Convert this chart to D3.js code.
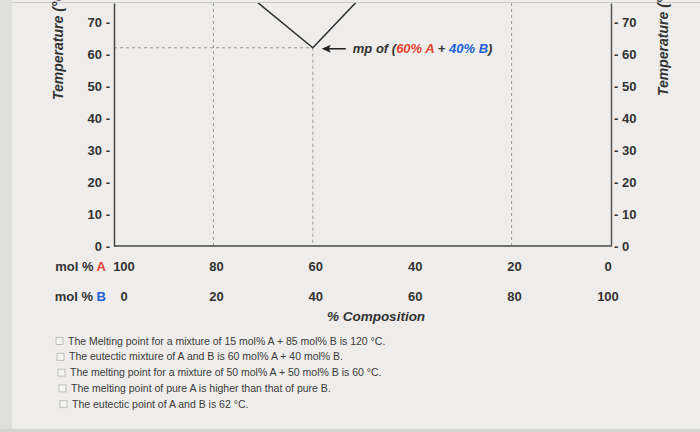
<!DOCTYPE html>
<html>
<head>
<meta charset="utf-8">
<script src="https://cdn.jsdelivr.net/npm/d3@7"></script>
<style>
  html, body { margin: 0; padding: 0; background: #eeedeb; overflow: hidden; }
  svg { display: block; font-family: "Liberation Sans", Arial, sans-serif; }
  .tick text { font-weight: bold; font-size: 13px; fill: #333; }
  .statement { font-size: 10.5px; fill: #3a3a3a; }
</style>
</head>
<body>
<svg id="chart" width="700" height="432"></svg>
<script>
// composition tick labels (mol % A along the axis, mol % B underneath)
const molA = [100, 80, 60, 40, 20, 0];
const molB = [0, 20, 40, 60, 80, 100];
const tempTicks = [0, 10, 20, 30, 40, 50, 60, 70];

// liquidus curve: mol % A and melting temperature
const curveA = [100, 60, 0];
const curveT = [113, 62, 160];

// eutectic point
const eutecticA = 60;
const eutecticT = 62;

// vertical guide lines (mol % A)
const guideA = [80, 20];

const statements = [
    "The Melting point for a mixture of 15 mol% A + 85 mol% B is 120 \u00B0C.",
    "The eutectic mixture of A and B is 60 mol% A + 40 mol% B.",
    "The melting point for a mixture of 50 mol% A + 50 mol% B is 60 \u00B0C.",
    "The melting point of pure A is higher than that of pure B.",
    "The eutectic point of A and B is 62 \u00B0C."
];

const svg = d3.select('#chart');

// page frame bits from the screenshot
svg.append('rect').attr('x', 0).attr('y', 0).attr('width', 12).attr('height', 432).attr('fill', '#dededc');
svg.append('rect').attr('x', 0).attr('y', 429).attr('width', 700).attr('height', 3).attr('fill', '#d4d4d2');
svg.append('line').attr('x1', 12).attr('x2', 700).attr('y1', 2.5).attr('y2', 2.5)
    .attr('stroke', '#c9c9c7').attr('stroke-width', 1);

const x = d3.scaleLinear().domain([100, 0]).range([114, 611]);
const y = d3.scaleLinear().domain([0, 76]).range([246, 3]);

svg.append('defs').append('clipPath').attr('id', 'plot-clip')
    .append('rect')
    .attr('x', x(100)).attr('y', y(76))
    .attr('width', x(0) - x(100)).attr('height', y(0) - y(76));

const dashed = { stroke: '#9a9a9a', dash: '3,3' };

// vertical dashed guides
svg.selectAll('.guide')
    .data(guideA)
    .enter()
    .append('line')
    .attr('class', 'guide')
    .attr('x1', d => x(d)).attr('x2', d => x(d))
    .attr('y1', y(76)).attr('y2', y(0))
    .attr('stroke', dashed.stroke)
    .attr('stroke-dasharray', dashed.dash);

// dashed drop lines from the eutectic point
svg.append('line')
    .attr('x1', x(100)).attr('x2', x(eutecticA))
    .attr('y1', y(eutecticT)).attr('y2', y(eutecticT))
    .attr('stroke', dashed.stroke)
    .attr('stroke-dasharray', dashed.dash);

svg.append('line')
    .attr('x1', x(eutecticA)).attr('x2', x(eutecticA))
    .attr('y1', y(eutecticT)).attr('y2', y(0))
    .attr('stroke', dashed.stroke)
    .attr('stroke-dasharray', dashed.dash);

// liquidus V
const line = d3.line()
    .x((d, i) => x(curveA[i]))
    .y(d => y(d));

svg.append('path')
    .datum(curveT)
    .attr('clip-path', 'url(#plot-clip)')
    .attr('d', line)
    .attr('fill', 'none')
    .attr('stroke', '#2e2e2e')
    .attr('stroke-width', 1.5);

// axes
const leftAxis = d3.axisLeft(y).tickValues(tempTicks).tickSize(0).tickPadding(4)
    .tickFormat(d => d + ' -');
const rightAxis = d3.axisRight(y).tickValues(tempTicks).tickSize(0).tickPadding(3)
    .tickFormat(d => '- ' + d);

svg.append('g').attr('transform', `translate(${x(100)},0)`).call(leftAxis)
    .call(g => g.select('.domain').attr('stroke', '#444').attr('stroke-width', 1.5));
svg.append('g').attr('transform', `translate(${x(0)},0)`).call(rightAxis)
    .call(g => g.select('.domain').attr('stroke', '#555').attr('stroke-width', 1.5));

svg.append('line')
    .attr('x1', x(100)).attr('x2', x(0))
    .attr('y1', y(0)).attr('y2', y(0))
    .attr('stroke', '#444').attr('stroke-width', 1.5);

// composition labels
function labelRow(values, baseline, name, color) {
    const row = svg.append('g').attr('font-weight', 'bold').attr('font-size', '13px').attr('fill', '#333');
    const head = row.append('text').attr('x', 106).attr('y', baseline).attr('text-anchor', 'end');
    head.append('tspan').text('mol % ');
    head.append('tspan').attr('fill', color).text(name);

    row.selectAll('.val')
        .data(values)
        .enter()
        .append('text')
        .attr('class', 'val')
        .attr('x', (d, i) => {
            if (i === 0) return x(100) + 10;
            if (i === values.length - 1) return x(0) - 3;
            return x(molA[i]) + 3;
        })
        .attr('y', baseline)
        .attr('text-anchor', 'middle')
        .text(d => d);
}

labelRow(molA, 271, 'A', '#e5412f');
labelRow(molB, 301, 'B', '#2160d8');

svg.append('text')
    .attr('x', 376).attr('y', 321)
    .attr('text-anchor', 'middle')
    .attr('font-weight', 'bold').attr('font-style', 'italic').attr('font-size', '13.5px')
    .attr('fill', '#333')
    .text('% Composition');

// axis titles (cut off by the top of the screenshot, as in the photo)
svg.append('text')
    .attr('transform', 'translate(63,100) rotate(-90)')
    .attr('font-weight', 'bold').attr('font-style', 'italic').attr('font-size', '14px')
    .attr('fill', '#333')
    .text('Temperature (\u00B0C)');

svg.append('text')
    .attr('transform', 'translate(668,96) rotate(-90)')
    .attr('font-weight', 'bold').attr('font-style', 'italic').attr('font-size', '14px')
    .attr('fill', '#333')
    .text('Temperature (\u00B0C)');

// eutectic annotation
const ax = x(eutecticA), ay = y(eutecticT);
svg.append('line')
    .attr('x1', ax + 13).attr('x2', ax + 33)
    .attr('y1', ay + 1).attr('y2', ay + 1)
    .attr('stroke', '#222').attr('stroke-width', 1.5);
svg.append('path')
    .attr('d', `M${ax + 9},${ay + 1} L${ax + 18},${ay - 3} L${ax + 16},${ay + 1} L${ax + 18},${ay + 5} Z`)
    .attr('fill', '#222');

const note = svg.append('text')
    .attr('x', ax + 40).attr('y', ay + 5)
    .attr('font-weight', 'bold').attr('font-style', 'italic').attr('font-size', '13px')
    .attr('fill', '#333');
note.append('tspan').text('mp of (');
note.append('tspan').attr('fill', '#e5412f').text('60% A');
note.append('tspan').text(' + ');
note.append('tspan').attr('fill', '#2160d8').text('40% B');
note.append('tspan').text(')');

// answer choices
const items = svg.selectAll('.choice')
    .data(statements)
    .enter()
    .append('g')
    .attr('class', 'choice')
    .attr('transform', (d, i) => `translate(${56 + i},${341 + i * 15.8})`);

items.append('rect')
    .attr('x', 0).attr('y', -3.5)
    .attr('width', 7).attr('height', 7)
    .attr('fill', '#f4f4f2')
    .attr('stroke', '#b4b4b4').attr('stroke-width', 0.8);

items.append('text')
    .attr('class', 'statement')
    .attr('x', 12).attr('y', 3.5)
    .text(d => d);
</script>
</body>
</html>
